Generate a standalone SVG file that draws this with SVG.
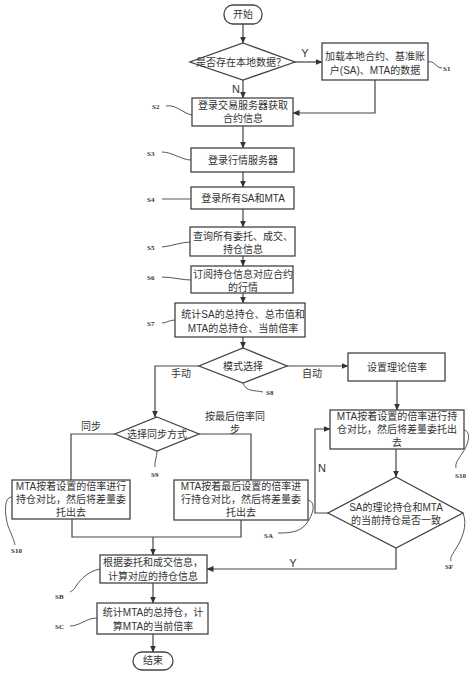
<svg xmlns="http://www.w3.org/2000/svg" width="474" height="673" viewBox="0 0 474 673">
<defs>
<marker id="ah" markerWidth="7" markerHeight="6" refX="6.5" refY="3" orient="auto" markerUnits="userSpaceOnUse">
<path d="M0,0 L7,3 L0,6 Z" fill="#333"/>
</marker>
<style>
.n{fill:#fff;stroke:#444;stroke-width:1.3}
.t{font-family:"Liberation Sans","Noto Sans CJK SC",sans-serif;font-size:10px;fill:#333;text-anchor:middle}
.c{fill:none;stroke:#444;stroke-width:1.2}
.a{fill:none;stroke:#444;stroke-width:1.2;marker-end:url(#ah)}
.s{fill:none;stroke:#444;stroke-width:0.9}
.l{font-family:"Liberation Serif",serif;font-size:7px;font-weight:bold;fill:#333}
.y{font-family:"Liberation Sans",sans-serif;font-size:11px;fill:#333;text-anchor:middle}
</style>
</defs>
<rect width="474" height="673" fill="#fff"/>
<g id="connectors">
<path class="a" d="M243,24 V43"/>
<path class="a" d="M295,62 H322"/>
<path class="a" d="M243,80 V98"/>
<path class="a" d="M375,80 V113 H293"/>
<path class="a" d="M243,126 V148"/>
<path class="a" d="M243,172 V187"/>
<path class="a" d="M243,209 V227"/>
<path class="a" d="M243,256 V266"/>
<path class="a" d="M243,293 V303"/>
<path class="a" d="M243,337 V348"/>
<path class="a" d="M199,366 H155 V417"/>
<path class="a" d="M287,366 H348"/>
<path class="a" d="M397,381 V410"/>
<path class="a" d="M396,449 V477"/>
<path class="a" d="M328,513 H315 V429 H330"/>
<path class="a" d="M396,548 V569 H207"/>
<path class="c" d="M115,434 H71 V480"/>
<path class="c" d="M199,434 H251 V480"/>
<path class="c" d="M72,519 V537 H241 V520"/>
<path class="a" d="M153,537 V555"/>
<path class="a" d="M153,583 V603"/>
<path class="a" d="M153,634 V652"/>
<text class="y" x="305" y="57">Y</text>
<text class="y" x="236" y="93">N</text>
<text class="t" x="181" y="377">手动</text>
<text class="t" x="312" y="377">自动</text>
<text class="t" x="91" y="430">同步</text>
<text class="t" x="235" y="420">按最后倍率同</text>
<text class="t" x="235" y="433">步</text>
<text class="y" x="322" y="472">N</text>
<text class="y" x="293" y="567">Y</text>
</g>
<g id="labels">
<path class="s" d="M428,62 C434,60 436,68 442,68"/><text class="l" x="443" y="71">S1</text>
<path class="s" d="M166,106 C176,104 184,114 192,115"/><text class="l" x="152" y="109">S2</text>
<path class="s" d="M162,152 C172,152 182,160 191,160"/><text class="l" x="147" y="156">S3</text>
<path class="s" d="M162,199 H191"/><text class="l" x="147" y="202">S4</text>
<path class="s" d="M162,247 C172,246 182,242 190,242"/><text class="l" x="147" y="250">S5</text>
<path class="s" d="M162,277 C172,277 182,280 191,280"/><text class="l" x="147" y="280">S6</text>
<path class="s" d="M162,323 C166,323 170,320 175,320"/><text class="l" x="147" y="326">S7</text>
<path class="s" d="M243,383 C246,392 254,390 263,392"/><text class="l" x="266" y="395">S8</text>
<path class="s" d="M157,451 C157,458 154,462 155,467"/><text class="l" x="151" y="477">S9</text>
<path class="s" d="M12,497 C2,497 6,520 8,526 C12,536 14,540 15,545"/><text class="l" x="11" y="553">S10</text>
<path class="s" d="M308,500 C318,502 312,520 302,528 C295,533 285,533 278,533"/><text class="l" x="264" y="538">SA</text>
<path class="s" d="M464,430 C472,432 468,445 463,452 C458,460 455,463 456,468"/><text class="l" x="455" y="478">S10</text>
<path class="s" d="M463,513 C468,525 462,540 455,550 C452,555 450,558 451,561"/><text class="l" x="445" y="569">SF</text>
<path class="s" d="M100,569 C88,571 80,580 76,586 C74,590 72,591 70,592"/><text class="l" x="55" y="599">SB</text>
<path class="s" d="M97,618 C86,618 80,626 70,626"/><text class="l" x="55" y="629">SC</text>
</g>
<g id="start"><rect class="n" x="224" y="5" width="38" height="19" rx="9"/><text class="t" x="243" y="18">开始</text></g>
<g id="d1"><path class="n" d="M243,43 L295,62 L243,80 L190,62 Z"/><text class="t" x="241" y="66">是否存在本地数据？</text></g>
<g id="s1"><rect class="n" x="322" y="43" width="106" height="37"/><text class="t" x="375" y="60">加载本地合约、基准账</text><text class="t" x="375" y="74">户(SA)、MTA的数据</text></g>
<g id="s2"><rect class="n" x="192" y="98" width="101" height="28"/><text class="t" x="243" y="109">登录交易服务器获取</text><text class="t" x="243" y="122">合约信息</text></g>
<g id="s3"><rect class="n" x="191" y="148" width="103" height="24"/><text class="t" x="243" y="164">登录行情服务器</text></g>
<g id="s4"><rect class="n" x="191" y="187" width="103" height="22"/><text class="t" x="243" y="202">登录所有SA和MTA</text></g>
<g id="s5"><rect class="n" x="190" y="227" width="105" height="29"/><text class="t" x="243" y="240">查询所有委托、成交、</text><text class="t" x="243" y="253">持仓信息</text></g>
<g id="s6"><rect class="n" x="191" y="266" width="102" height="27"/><text class="t" x="243" y="278">订阅持仓信息对应合约</text><text class="t" x="243" y="291">的行情</text></g>
<g id="s7"><rect class="n" x="175" y="303" width="130" height="34"/><text class="t" x="243" y="318">统计SA的总持仓、总市值和</text><text class="t" x="243" y="332">MTA的总持仓、当前倍率</text></g>
<g id="s8"><path class="n" d="M243,348 L287,366 L243,383 L199,366 Z"/><text class="t" x="243" y="370">模式选择</text></g>
<g id="set"><rect class="n" x="348" y="353" width="97" height="28"/><text class="t" x="397" y="371">设置理论倍率</text></g>
<g id="s10r"><rect class="n" x="330" y="410" width="134" height="39"/><text class="t" x="397" y="420">MTA按着设置的倍率进行持</text><text class="t" x="397" y="433">仓对比，然后将差量委托出</text><text class="t" x="397" y="446">去</text></g>
<g id="s9"><path class="n" d="M157,417 L199,434 L157,451 L115,434 Z"/><text class="t" x="157" y="438">选择同步方式</text></g>
<g id="s10l"><rect class="n" x="12" y="480" width="118" height="39"/><text class="t" x="71" y="490">MTA按着设置的倍率进行</text><text class="t" x="71" y="503">持仓对比，然后将差量委</text><text class="t" x="71" y="516">托出去</text></g>
<g id="sa"><rect class="n" x="174" y="480" width="134" height="40"/><text class="t" x="241" y="490">MTA按着最后设置的倍率进</text><text class="t" x="241" y="503">行持仓对比，然后将差量委</text><text class="t" x="241" y="516">托出去</text></g>
<g id="sf"><path class="n" d="M396,477 L463,513 L396,548 L328,513 Z"/><text class="t" x="396" y="511">SA的理论持仓和MTA</text><text class="t" x="396" y="524">的当前持仓是否一致</text></g>
<g id="sb"><rect class="n" x="100" y="555" width="107" height="28"/><text class="t" x="153" y="566">根据委托和成交信息，</text><text class="t" x="153" y="580">计算对应的持仓信息</text></g>
<g id="sc"><rect class="n" x="97" y="603" width="111" height="31"/><text class="t" x="153" y="616">统计MTA的总持仓，计</text><text class="t" x="153" y="630">算MTA的当前倍率</text></g>
<g id="end"><rect class="n" x="133" y="652" width="40" height="18" rx="9"/><text class="t" x="153" y="664">结束</text></g>
</svg>
